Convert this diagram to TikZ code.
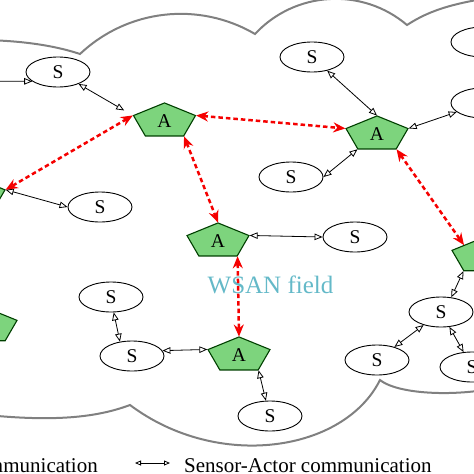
\documentclass[tikz,border=0pt]{standalone}
\usepackage{fontspec}
\setmainfont{Liberation Serif}
\usepackage{graphicx}
\usetikzlibrary{shapes.geometric,arrows.meta,calc}
\definecolor{actorgreen}{RGB}{125,212,125}
\definecolor{cloudgray}{RGB}{128,128,128}
\definecolor{fieldblue}{RGB}{100,185,200}
\definecolor{wred}{RGB}{245,0,0}
\newcommand{\actortext}[1]{\scalebox{1}[1.7857]{#1}}
\begin{document}
\begin{tikzpicture}[x=1pt,y=-1pt,
 sensor/.style={ellipse, draw=black, line width=0.9pt, fill=white, minimum width=64pt, minimum height=30pt, inner sep=0pt, font=\fontsize{19.5}{19.5}\selectfont},
 actor/.style={regular polygon, regular polygon sides=5, minimum size=65.2pt, inner sep=0pt, draw=black!75!green, line width=1.1pt, fill=actorgreen, yscale=0.56, font=\fontsize{19.5}{19.5}\selectfont},
 sa/.style={draw=black, line width=0.8pt, {Triangle[open,length=8pt,width=6.5pt]}-{Triangle[open,length=8pt,width=6.5pt]}},
 aa/.style={draw=wred, line width=2.5pt, dash pattern=on 4.5pt off 3pt, {Stealth[length=12pt,width=10pt]}-{Stealth[length=12pt,width=10pt]}},
 cloudline/.style={draw=cloudgray, line width=2pt},
 legendtext/.style={font=\fontsize{21}{21}\selectfont, inner sep=0pt},
]
\useasboundingbox (0,0) rectangle (474,474);
\clip (0,0) rectangle (474,474);

% cloud outline
\draw[cloudline] (-40,40) .. controls (10,39) and (50,44) .. (80,54)
 .. controls (127.5,9.1) and (198.6,1.0) .. (255,34)
 .. controls (295.1,-9.1) and (362.1,-13.1) .. (407,25)
 .. controls (430,10) and (455,2) .. (510,-5);
\draw[cloudline] (520,382) .. controls (470,398) and (400,396) .. (380,380)
 .. controls (344,452) and (218,471) .. (130,405)
 .. controls (90,420) and (40,422) .. (-40,412);

% sensors
\node[sensor] (s1) at (58,72) {S};
\node[sensor] (s2) at (100,207) {S};
\node[sensor] (s3) at (312,57) {S};
\node[sensor] (s4) at (291,177) {S};
\node[sensor] (s5) at (355,237) {S};
\node[sensor] (s6) at (483,42) {S};
\node[sensor] (s7) at (483,103) {S};
\node[sensor] (s8) at (441,312) {S};
\node[sensor] (s9) at (377,360) {S};
\node[sensor] (s10) at (472,367) {S};
\node[sensor] (s11) at (270,416) {S};
\node[sensor] (s12) at (111,297) {S};
\node[sensor] (s13) at (132,356) {S};

% actors
\node[actor] (a1) at (164.5,121.2) {\actortext{A}};
\node[actor] (a2) at (377,134.2) {\actortext{A}};
\node[actor] (a3) at (218,241.2) {\actortext{A}};
\node[actor] (a4) at (239,355.2) {\actortext{A}};
\node[actor] (a5) at (483,256) {\actortext{A}};
\node[actor] (a6) at (-14,326) {\actortext{A}};
\node[actor] (a7) at (-26,195.5) {\actortext{A}};

% field label
\node[font=\fontsize{25}{25}\selectfont, text=fieldblue, anchor=base, inner sep=0pt] (field) at (270.5,293) {WSAN field};

% sensor-actor links
\coordinate (l1) at (-40,81);
\draw[sa] (l1) -- (s1.200);
\draw[sa, shorten >=10pt] (s1) -- (a1.corner 2);
\draw[sa] (a7.corner 5) -- (s2.west);
\draw[sa] (s3) -- (a2.corner 1);
\draw[sa] (a2.corner 5) -- (s7);
\draw[sa] (s4.east) -- (a2.corner 3);
\draw[sa] (a3.corner 5) -- (s5.west);
\draw[sa] (a5.corner 3) -- (s8.55);
\draw[sa] (s8) -- (s9);
\draw[sa] (s8) -- (s10);
\draw[sa] (s12.-80) -- (s13.130);
\draw[sa] (s13.10) -- (a4.corner 2);
\draw[sa] (a4.corner 4) -- (s11.105);

% actor-actor links
\draw[aa] (a1.corner 2) -- (a7.corner 5);
\draw[aa] (a1.corner 4) -- (a3.corner 1);
\draw[aa] (a1.corner 5) -- (a2.corner 2);
\draw[aa] (a2.corner 4) -- ($(a5.corner 1)!0.6!(a5.corner 2)$);
\draw[aa] (a3.corner 4) -- (a4.corner 1);

% legend
\node[legendtext, anchor=base east] (lgleft) at (98,472) {communication};
\coordinate (lg1) at (135,463);
\coordinate (lg2) at (170,463);
\draw[draw=black, line width=0.8pt, {Triangle[open,length=6pt,width=5pt]}-{Triangle[open,length=6pt,width=5pt]}] (lg1) -- (lg2);
\node[legendtext, anchor=base west] (lgright) at (184,472) {Sensor-Actor communication};
\end{tikzpicture}
\end{document}
